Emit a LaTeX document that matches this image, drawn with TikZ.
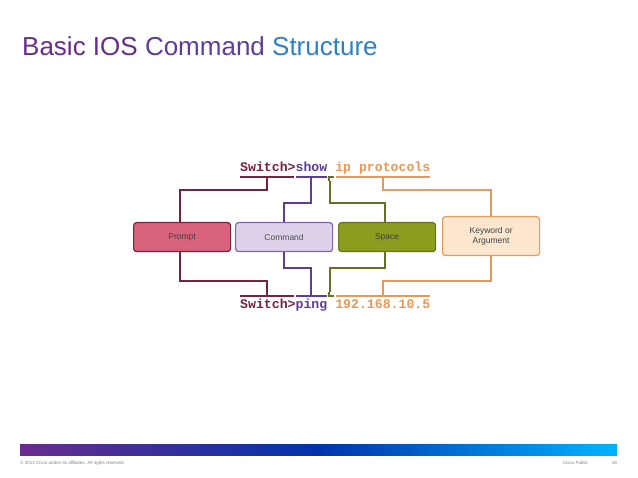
\documentclass[tikz,border=0pt]{standalone}
\usepackage{fontspec}
\setmainfont{Liberation Sans}
\newfontfamily\cmono{Liberation Mono}
\definecolor{pline}{HTML}{7A2040}\definecolor{pfill}{HTML}{D9637C}
\definecolor{cline}{HTML}{5E3C9C}\definecolor{cfill}{HTML}{DDD2EA}
\definecolor{sline}{HTML}{6A7020}\definecolor{sfill}{HTML}{8C9C1E}
\definecolor{aline}{HTML}{E8995A}\definecolor{afill}{HTML}{FDE6CE}
\definecolor{tpurple}{HTML}{6A2C8C}\definecolor{tblue}{HTML}{2A82C8}
\begin{document}
\begin{tikzpicture}[x=1pt,y=-1pt,
  box/.style={draw,rounded corners=3pt,line width=1.2pt,minimum width=97pt,anchor=north west,font=\fontsize{8.5}{10}\selectfont,align=center},
  cmd/.style={font=\cmono\bfseries\fontsize{13.2}{14}\selectfont,anchor=base west,inner sep=0pt},
  wire/.style={line width=1.1pt}]
\useasboundingbox[fill=white] (0,0) rectangle (638,478);
\node[anchor=base west,inner sep=0pt,font=\fontsize{26}{30}\selectfont] (title) at (22,56) {\textcolor{tpurple}{Basic IOS} \textcolor{cline}{Command} \textcolor{tblue}{Structure}};
% boxes
\node[box,draw=pline,fill=pfill,minimum height=29pt,text=black!75] (p) at (133,222) {Prompt};
\node[box,draw=cline!80,fill=cfill,minimum height=29pt,text=black!70] (c) at (235,222) {Command};
\node[box,draw=sline,fill=sfill,minimum height=29pt,text=black!75] (s) at (338,222) {Space};
\node[box,draw=aline,fill=afill,minimum height=39pt,text=black!75] (a) at (442,216) {Keyword or\\Argument};
% texts
\node[cmd] (t1) at (240,172) {\textcolor{pline}{Switch>}\textcolor{cline}{show} \textcolor{aline}{ip protocols}};
\node[cmd] (t2) at (240,309) {\textcolor{pline}{Switch>}\textcolor{cline}{ping} \textcolor{aline}{192.168.10.5}};
\coordinate (u) at (0,177); \coordinate (d) at (0,296);
% underlines
\draw[wire,pline] (240,177) -- (294,177) (240,296) -- (294,296);
\draw[wire,cline] (296,177) -- (327,177) (296,296) -- (327,296);
\draw[wire,sline] (334,177) -- (329,177) -- (329,181) (334,296) -- (329,296) -- (329,292);
\draw[wire,aline] (336,177) -- (430,177) (336,296) -- (430,296);
% top wires
\draw[wire,pline] (267,177) |- (180,190) -- (p.north -| 180,0);
\draw[wire,cline] (311,177) |- (284,203) -- (c.north -| 284,0);
\draw[wire,sline] (330,181) |- (385,203) -- (s.north -| 385,0);
\draw[wire,aline] (383,177) |- (491,190) -- (a.north -| 491,0);
% bottom wires
\draw[wire,pline] (p.south -| 180,0) |- (267,281) -- (267,296);
\draw[wire,cline] (c.south -| 284,0) |- (311,268) -- (311,296);
\draw[wire,sline] (s.south -| 385,0) |- (330,268) -- (330,292);
\draw[wire,aline] (a.south -| 491,0) |- (383,281) -- (383,296);
% footer
\shade[left color=tpurple,right color=cyan!70!blue,middle color=blue!60!black!80!cyan] (20,445) rectangle (617,456);
\node[anchor=west,inner sep=0pt,text=gray,font=\fontsize{4.5}{5}\selectfont] (f1) at (20,463) {\textcopyright{} 2013 Cisco and/or its affiliates. All rights reserved.};
\node[anchor=east,inner sep=0pt,text=gray,font=\fontsize{4.5}{5}\selectfont] (f2) at (588,463) {Cisco Public};
\node[anchor=east,inner sep=0pt,text=gray,font=\fontsize{4.5}{5}\selectfont] (f3) at (617,463) {19};
\end{tikzpicture}
\end{document}
